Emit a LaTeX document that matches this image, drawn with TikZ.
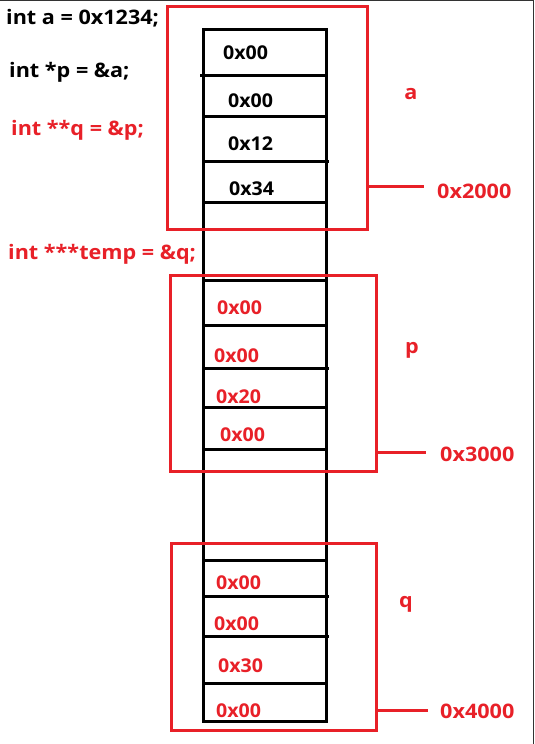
\documentclass[tikz,border=0pt]{standalone}
\usepackage{fontspec}
\setmainfont{Open Sans}
\newfontfamily\wideopen[FakeStretch=1.08]{Open Sans}
\newfontfamily\cellopen[FakeStretch=1.03]{Open Sans}
\usetikzlibrary{positioning}
\definecolor{memred}{RGB}{232,32,40}
\begin{document}
\begin{tikzpicture}[x=1pt,y=-1pt,
  code/.style={anchor=base west,inner sep=0pt,font=\wideopen\bfseries\fontsize{20}{22}\selectfont},
  cell/.style={anchor=west,inner sep=0pt,font=\cellopen\bfseries\fontsize{19}{21}\selectfont},
  addr/.style={anchor=west,inner sep=0pt,text=memred,font=\wideopen\bfseries\fontsize{20}{22}\selectfont},
  varname/.style={inner sep=0pt,text=memred,font=\wideopen\bfseries\fontsize{20}{22}\selectfont},
  redbox/.style={draw=memred,line width=3pt,inner sep=0pt},
  memline/.style={draw=black,line width=3pt},
  redline/.style={draw=memred,line width=3pt},
  frameline/.style={draw=black!80,line width=1pt}]
\useasboundingbox (0,0) rectangle (535,744);
\fill[white] (0,0) rectangle (535,744);
% frame edges
\coordinate (ftl) at (0,0.5);
\coordinate (ftr) at (533,0.5);
\coordinate (fbr) at (533,744);
\draw[frameline] (ftl) -- (ftr) -- (fbr);
% code lines
\node[code] (c1) at (6,24) {int a = 0x1234;};
\node[code] (c2) at (9,77) {int *p = \&a;};
\node[code,text=memred] (c3) at (11,135) {int **q = \&p;};
\node[code,text=memred] (c4) at (8,259) {int ***temp = \&q;};
% memory column
\node[memline,minimum width=123,minimum height=692,inner sep=0pt] (col) at (264.5,375) {};
% separators block a
\coordinate (a1l) at (200,75);  \coordinate (a1r) at (326,75);
\coordinate (a2l) at (203,116); \coordinate (a2r) at (326,116);
\coordinate (a3l) at (203,161); \coordinate (a3r) at (329,161);
\coordinate (a4l) at (203,202); \coordinate (a4r) at (326,202);
\draw[memline] (a1l) -- (a1r) (a2l) -- (a2r) (a3l) -- (a3r) (a4l) -- (a4r);
% separators block p
\coordinate (p0l) at (203,280); \coordinate (p0r) at (326,280);
\coordinate (p1l) at (203,325); \coordinate (p1r) at (326,325);
\coordinate (p2l) at (203,368); \coordinate (p2r) at (329,368);
\coordinate (p3l) at (203,407); \coordinate (p3r) at (326,407);
\coordinate (p4l) at (203,449); \coordinate (p4r) at (326,449);
\draw[memline] (p0l) -- (p0r) (p1l) -- (p1r) (p2l) -- (p2r) (p3l) -- (p3r) (p4l) -- (p4r);
% separators block q
\coordinate (q0l) at (203,560); \coordinate (q0r) at (326,560);
\coordinate (q1l) at (203,596); \coordinate (q1r) at (329,596);
\coordinate (q2l) at (203,636); \coordinate (q2r) at (329,636);
\coordinate (q3l) at (203,683); \coordinate (q3r) at (326,683);
\draw[memline] (q0l) -- (q0r) (q1l) -- (q1r) (q2l) -- (q2r) (q3l) -- (q3r);
% cell values a
\node[cell] (va1) at (223,53) {0x00};
\node[cell] (va2) at (228,101) {0x00};
\node[cell] (va3) at (228,144) {0x12};
\node[cell] (va4) at (229,189) {0x34};
% cell values p
\node[cell,text=memred] (vp1) at (217,308) {0x00};
\node[cell,text=memred] (vp2) at (214,356) {0x00};
\node[cell,text=memred] (vp3) at (216,397) {0x20};
\node[cell,text=memred] (vp4) at (220,435) {0x00};
% cell values q
\node[cell,text=memred] (vq1) at (216,583) {0x00};
\node[cell,text=memred] (vq2) at (214,624) {0x00};
\node[cell,text=memred] (vq3) at (218,666) {0x30};
\node[cell,text=memred] (vq4) at (216,711) {0x00};
% red boxes
\node[redbox,minimum width=200,minimum height=223] (boxa) at (267,117.5) {};
\node[redbox,minimum width=206,minimum height=196] (boxp) at (273.5,373) {};
\node[redbox,minimum width=205,minimum height=187] (boxq) at (273.5,636.5) {};
% variable names
\node[varname] (na) at (411,94) {a};
\node[varname] (np) at (412,350) {p};
\node[varname] (nq) at (406,604) {q};
% address connectors and labels
\coordinate (ea) at (424,186);
\coordinate (ep) at (426,452);
\coordinate (eq) at (428,710);
\draw[redline] (boxa.east |- ea) -- (ea);
\draw[redline] (boxp.east |- ep) -- (ep);
\draw[redline] (boxq.east |- eq) -- (eq);
\node[addr] (la) at (437,191) {0x2000};
\node[addr] (lp) at (440,454) {0x3000};
\node[addr] (lq) at (440,711) {0x4000};
\end{tikzpicture}
\end{document}
